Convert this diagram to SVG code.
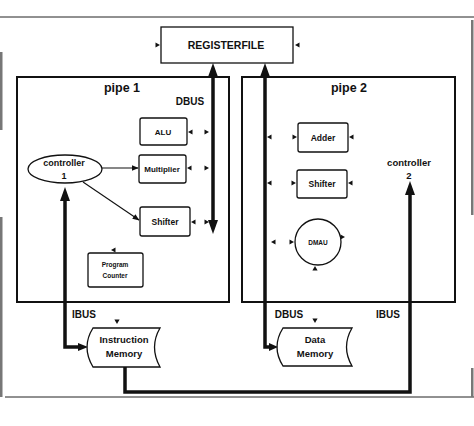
<svg xmlns="http://www.w3.org/2000/svg" width="474" height="426" viewBox="0 0 474 426">
<style>
.bx{fill:#fff;stroke:#111;stroke-width:1.3}
.pipe{fill:none;stroke:#111;stroke-width:2}
.bus{fill:none;stroke:#111;stroke-width:3.5}
.thin{fill:none;stroke:#111;stroke-width:1.1}
text{font-family:"Liberation Sans",Arial,sans-serif;font-weight:bold;fill:#111;text-anchor:middle}
.scan{fill:#777}
</style>
<defs>
<path id="pt" d="M0,0 L-4.5,-2.6 L-4.5,2.6 Z" fill="#111"/>
<path id="big" d="M0,0 L-14,-5 L-14,5 Z" fill="#111"/>
<marker id="ah" viewBox="0 0 10 10" refX="9" refY="5" markerWidth="7" markerHeight="7" orient="auto" markerUnits="userSpaceOnUse"><path d="M0,1 L10,5 L0,9 Z" fill="#111"/></marker>
</defs>
<rect width="474" height="426" fill="#fff"/>
<g id="frame">
<line x1="0" y1="17" x2="474" y2="17" stroke="#222" stroke-width="1"/>
<line x1="5" y1="397" x2="474" y2="397" stroke="#222" stroke-width="1"/>
<rect class="scan" x="0" y="52" width="2.5" height="78"/>
<rect class="scan" x="0" y="217" width="2.5" height="180"/>
<rect class="scan" x="471" y="20" width="2.5" height="195"/>
<rect class="scan" x="471" y="368" width="2.5" height="29"/>
</g>
<g id="pipe1">
<rect class="pipe" x="17" y="77" width="212" height="225"/>
<text x="122" y="92" font-size="12.5">pipe 1</text>
<text x="190" y="105" font-size="10">DBUS</text>
</g>
<g id="pipe2">
<rect class="pipe" x="242" y="77" width="213" height="225"/>
<text x="349" y="92" font-size="12.5">pipe 2</text>
</g>
<g id="registerfile">
<rect class="bx" x="161" y="27" width="132" height="36"/>
<text x="226" y="49" font-size="10.5">REGISTERFILE</text>
<use href="#pt" transform="translate(160,45)"/>
<use href="#pt" transform="translate(295,45) rotate(180)"/>
</g>
<g id="alu">
<rect class="bx" x="140" y="118" width="47" height="27" rx="2"/>
<text x="163" y="135" font-size="8">ALU</text>
<use href="#pt" transform="translate(188,132) rotate(180)"/>
<use href="#pt" transform="translate(209,132)"/>
</g>
<g id="multiplier">
<rect class="bx" x="139" y="155" width="47" height="28" rx="2"/>
<text x="162" y="172" font-size="8">Multiplier</text>
<use href="#pt" transform="translate(187,168) rotate(180)"/>
<use href="#pt" transform="translate(209,168)"/>
</g>
<g id="shifter1">
<rect class="bx" x="140" y="207" width="50" height="29" rx="2"/>
<text x="165" y="225" font-size="8.5">Shifter</text>
<use href="#pt" transform="translate(191,222) rotate(180)"/>
<use href="#pt" transform="translate(209,222)"/>
</g>
<g id="controller1">
<ellipse class="bx" cx="65" cy="169" rx="37" ry="14"/>
<text x="64" y="166" font-size="9">controller</text>
<text x="64" y="179" font-size="9">1</text>
</g>
<g id="programcounter">
<rect class="bx" x="88" y="253" width="55" height="34" rx="2"/>
<text x="115" y="267" font-size="6.5">Program</text>
<text x="115" y="278" font-size="6.5">Counter</text>
<use href="#pt" transform="translate(111,250) rotate(180)"/>
</g>
<g id="adder">
<rect class="bx" x="298" y="123" width="50" height="29" rx="2"/>
<text x="323" y="141" font-size="8.5">Adder</text>
<use href="#pt" transform="translate(267,137) rotate(180)"/>
<use href="#pt" transform="translate(297,137)"/>
<use href="#pt" transform="translate(349,137) rotate(180)"/>
</g>
<g id="shifter2">
<rect class="bx" x="297" y="170" width="50" height="28" rx="2"/>
<text x="322" y="187" font-size="8.5">Shifter</text>
<use href="#pt" transform="translate(267,183) rotate(180)"/>
<use href="#pt" transform="translate(296,183)"/>
<use href="#pt" transform="translate(348,183) rotate(180)"/>
</g>
<g id="controller2">
<text x="409" y="166" font-size="9.5">controller</text>
<text x="409" y="179" font-size="9.5">2</text>
</g>
<g id="dmau">
<circle class="bx" cx="318" cy="242" r="23"/>
<text x="318" y="245" font-size="6.5">DMAU</text>
<use href="#pt" transform="translate(271,242) rotate(180)"/>
<use href="#pt" transform="translate(294,242)"/>
<use href="#pt" transform="translate(345,237)"/>
<use href="#pt" transform="translate(315,266) rotate(-90)"/>
</g>
<g id="instructionmemory">
<path class="bx" d="M93,328 L160,328 Q149,347 160,367 L93,367 Q81,347 93,328 Z"/>
<text x="124" y="343" font-size="9.5">Instruction</text>
<text x="124" y="357" font-size="9.5">Memory</text>
<use href="#pt" transform="translate(117,324) rotate(90)"/>
</g>
<g id="datamemory">
<path class="bx" d="M283,328 L352,328 Q341,347 352,366 L283,366 Q271,347 283,328 Z"/>
<text x="315" y="343" font-size="9.5">Data</text>
<text x="315" y="357" font-size="9.5">Memory</text>
<use href="#pt" transform="translate(315,323) rotate(90)"/>
</g>
<g id="labels">
<text x="84" y="318" font-size="10">IBUS</text>
<text x="289" y="318" font-size="10">DBUS</text>
<text x="388" y="318" font-size="10">IBUS</text>
</g>
<g id="connectors">
<line class="thin" x1="102" y1="168" x2="138" y2="168" marker-end="url(#ah)"/>
<line class="thin" x1="83" y1="182" x2="139" y2="220" marker-end="url(#ah)"/>
<line class="bus" x1="213" y1="76" x2="213" y2="220"/>
<use href="#big" transform="translate(213,63) rotate(-90)"/>
<use href="#big" transform="translate(213,234) rotate(90)"/>
<polyline class="bus" points="265,76 265,347 270,347"/>
<use href="#big" transform="translate(265,63) rotate(-90)"/>
<path d="M278,347 L269,343 L269,351 Z" fill="#111"/>
<polyline class="bus" points="65,200 65,347 78,347"/>
<use href="#big" transform="translate(65,187) rotate(-90)"/>
<path d="M88,347 L78,343 L78,351 Z" fill="#111"/>
<polyline class="bus" points="125,367 125,392 410,392 410,195"/>
<use href="#big" transform="translate(410,181) rotate(-90)"/>
</g>
</svg>
